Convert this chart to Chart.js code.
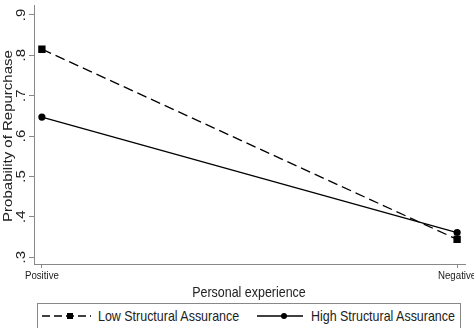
<!DOCTYPE html>
<html>
<head>
<meta charset="utf-8">
<script src="https://cdn.jsdelivr.net/npm/chart.js@4/dist/chart.umd.min.js"></script>
<style>
  html, body { margin: 0; padding: 0; background: #fff; }
  body { width: 474px; height: 328px; position: relative; overflow: hidden; font-family: "Liberation Sans", Arial, sans-serif; }
  #chartBox { position: absolute; left: 0; top: 0; width: 474px; height: 303px; }
  #legend {
    position: absolute; left: 37px; top: 303px; width: 424px; height: 40px;
    border: 1px solid #888; box-sizing: border-box; color: #222; font-size: 15px;
  }
  .item { position: absolute; top: 3px; height: 18px; line-height: 18px; white-space: nowrap; }
  .item svg { position: absolute; left: 0; top: 4px; }
  .item span { position: absolute; top: 0; transform: scaleX(0.83); transform-origin: left center; }
</style>
</head>
<body>
<div id="chartBox"><canvas id="chart"></canvas></div>
<div id="legend">
  <div class="item" style="left:3px">
    <svg width="50" height="10"><line x1="1" y1="5" x2="50" y2="5" stroke="#000" stroke-width="1.3" stroke-dasharray="8,4"/><rect x="26" y="2" width="6" height="6" fill="#000"/></svg>
    <span style="left:57px">Low Structural Assurance</span>
  </div>
  <div class="item" style="left:218px">
    <svg width="48" height="10"><line x1="1" y1="5" x2="47" y2="5" stroke="#000" stroke-width="1.3"/><circle cx="28" cy="5" r="3" fill="#000"/></svg>
    <span style="left:55px">High Structural Assurance</span>
  </div>
</div>
<script>
'use strict';

// data
var categories = ['Positive', 'Negative'];
var lowAssurance = [0.815, 0.344];
var highAssurance = [0.647, 0.361];
var yTicks = [0.3, 0.4, 0.5, 0.6, 0.7, 0.8, 0.9];
var yTickLabels = ['.3', '.4', '.5', '.6', '.7', '.8', '.9'];
var xTitle = 'Personal experience';
var yTitle = 'Probability of Repurchase';

var axisColor = '#888';
var textColor = '#222';
var fontFamily = '"Liberation Sans", Arial, sans-serif';
// the original picture is squeezed sideways, so text is narrower than normal
var squeeze = 0.83;

function toPoints(values) {
  var pts = [];
  for (var i = 0; i < values.length; i++) {
    pts.push({ x: i, y: values[i] });
  }
  return pts;
}

// tick labels and the x title, drawn by hand so they can be squeezed like the original
var axisText = {
  id: 'axisText',
  afterDraw: function(chart) {
    var ctx = chart.ctx;
    var xs = chart.scales.x;
    var ys = chart.scales.y;
    ctx.save();
    ctx.fillStyle = textColor;
    ctx.textAlign = 'center';
    ctx.textBaseline = 'middle';

    ctx.font = '15px ' + fontFamily;
    for (var i = 0; i < yTicks.length; i++) {
      var py = ys.getPixelForValue(yTicks[i]);
      ctx.save();
      ctx.translate(22, py);
      ctx.scale(squeeze, 1);
      ctx.rotate(-Math.PI / 2);
      ctx.fillText(yTickLabels[i], 0, 0);
      ctx.restore();
    }

    ctx.font = '11.7px ' + fontFamily;
    for (var j = 0; j < categories.length; j++) {
      ctx.save();
      ctx.translate(xs.getPixelForValue(j), 276);
      ctx.scale(squeeze, 1);
      ctx.fillText(categories[j], 0, 0);
      ctx.restore();
    }

    ctx.font = '15px ' + fontFamily;
    ctx.save();
    ctx.translate(249, 293);
    ctx.scale(squeeze, 1);
    ctx.fillText(xTitle, 0, 0);
    ctx.restore();

    ctx.save();
    ctx.translate(9, ys.getPixelForValue(0.6));
    ctx.scale(squeeze, 1);
    ctx.rotate(-Math.PI / 2);
    ctx.fillText(yTitle, 0, 0);
    ctx.restore();

    ctx.restore();
  }
};

var chart = new Chart(document.getElementById('chart'), {
  type: 'line',
  data: {
    datasets: [
      {
        label: 'Low Structural Assurance',
        data: toPoints(lowAssurance),
        borderColor: '#000',
        backgroundColor: '#000',
        borderWidth: 1.3,
        borderDash: [10, 5],
        pointStyle: 'rect',
        pointRadius: 5.2,
        pointBorderWidth: 0
      },
      {
        label: 'High Structural Assurance',
        data: toPoints(highAssurance),
        borderColor: '#000',
        backgroundColor: '#000',
        borderWidth: 1.3,
        pointStyle: 'circle',
        pointRadius: 3.6,
        pointBorderWidth: 0
      }
    ]
  },
  options: {
    responsive: true,
    maintainAspectRatio: false,
    animation: false,
    layout: { padding: { top: 0, right: 9, bottom: 0, left: 0 } },
    plugins: {
      legend: { display: false },
      tooltip: { enabled: false }
    },
    scales: {
      x: {
        type: 'linear',
        min: -0.019,
        max: 1.019,
        afterBuildTicks: function(scale) {
          scale.ticks = categories.map(function(c, i) { return { value: i }; });
        },
        afterFit: function(scale) { scale.height = 39; },
        ticks: { display: false },
        grid: { drawOnChartArea: false, drawTicks: true, tickLength: 4, color: axisColor },
        border: { color: axisColor, width: 1 }
      },
      y: {
        min: 0.283,
        max: 0.924,
        afterBuildTicks: function(scale) {
          scale.ticks = yTicks.map(function(v) { return { value: v }; });
        },
        afterFit: function(scale) { scale.width = 34; },
        ticks: { display: false },
        grid: { drawOnChartArea: false, drawTicks: true, tickLength: 5, color: axisColor },
        border: { color: axisColor, width: 1 }
      }
    }
  },
  plugins: [axisText]
});
</script>
</body>
</html>
